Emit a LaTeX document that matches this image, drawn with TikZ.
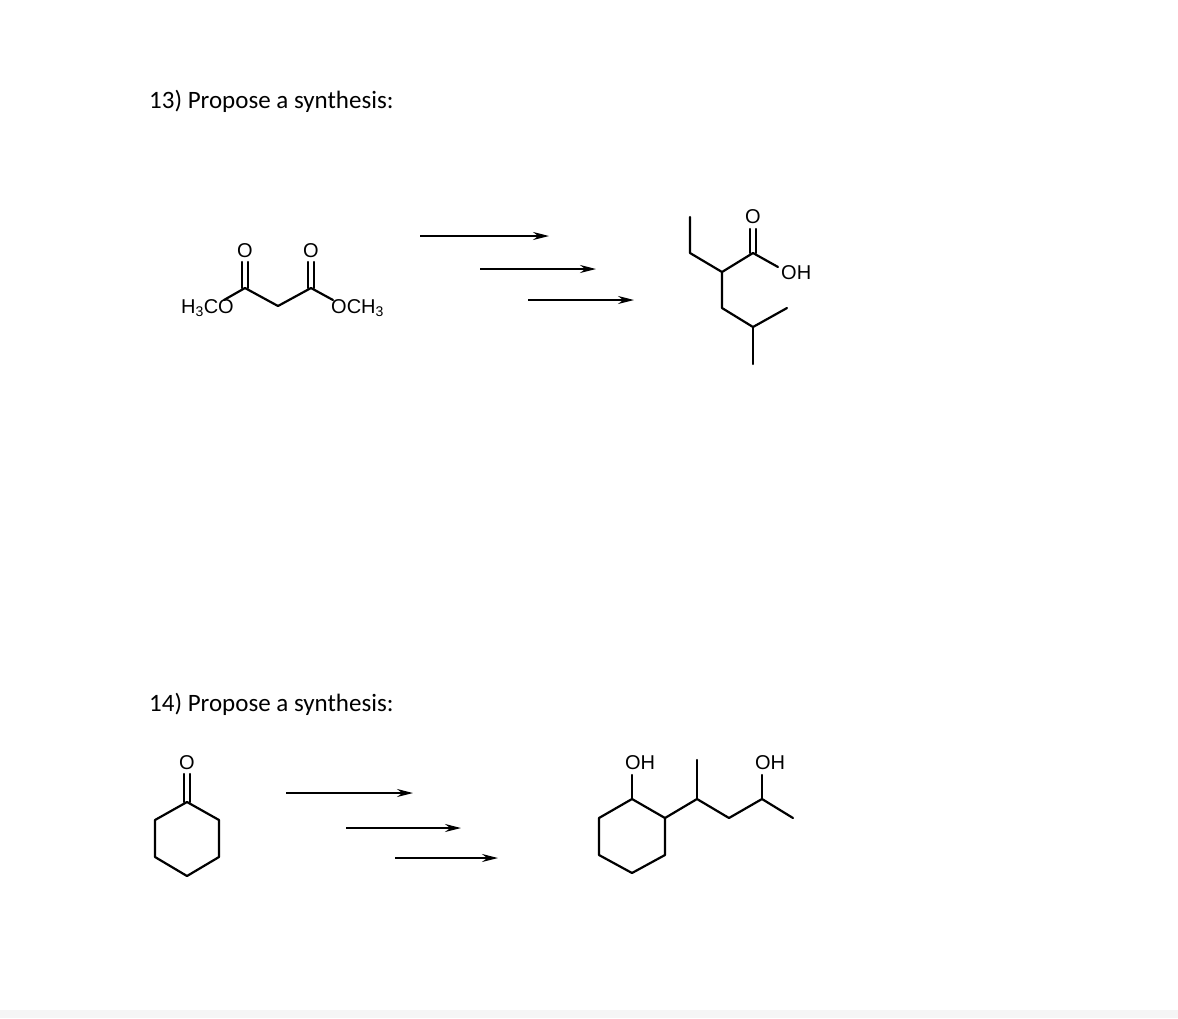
\documentclass[tikz,border=0pt]{standalone}
\usepackage{fontspec}
\setmainfont{Liberation Sans}
\newfontfamily\titlefont{Carlito}
\usetikzlibrary{arrows.meta}
\begin{document}
\begin{tikzpicture}[x=1pt,y=-1pt,
  bond/.style={line width=2.2pt,line cap=round,line join=round},
  rxn/.style={line width=1.4pt,-{Stealth[length=16pt,width=8pt]}},
  atom/.style={font=\fontsize{20}{20}\selectfont,inner sep=0pt},
  ttl/.style={font=\titlefont\fontsize{25}{25}\selectfont,anchor=west,inner sep=0pt}]
\useasboundingbox (0,0) rectangle (1178,1018);
\fill[gray!8] (0,1010) rectangle (1178,1018);
\node[ttl] (t13) at (149,101) {13) Propose a synthesis:};
\node[ttl] (t14) at (149,704) {14) Propose a synthesis:};
% molecule 1
\coordinate (c1) at (245,288); \coordinate (ch2) at (278,306); \coordinate (c2) at (311,288);
\node[atom,anchor=east] (meo) at (234,308) {H\textsubscript{3}CO};
\node[atom,anchor=west] (ome) at (331,308) {OCH\textsubscript{3}};
\node[atom] (o1) at (245,251) {O};
\node[atom] (o2) at (311,251) {O};
\draw[bond] (224,300) -- (c1) -- (ch2) -- (c2) -- (333,300);
\draw[bond] ([xshift=-3pt]c1) -- ([xshift=-3pt]245,262) ([xshift=3pt]c1) -- ([xshift=3pt]245,262);
\draw[bond] ([xshift=-3pt]c2) -- ([xshift=-3pt]311,262) ([xshift=3pt]c2) -- ([xshift=3pt]311,262);
% arrows 1
\coordinate (a1s) at (420,236); \coordinate (a1e) at (549,236);
\coordinate (a2s) at (480,269); \coordinate (a2e) at (596,269);
\coordinate (a3s) at (528,300); \coordinate (a3e) at (634,300);
\draw[rxn] (a1s) -- (a1e); \draw[rxn] (a2s) -- (a2e); \draw[rxn] (a3s) -- (a3e);
% molecule 2
\node[atom] (o3) at (753,217) {O};
\node[atom,anchor=west] (oh1) at (781,273) {OH};
\draw[bond] (690,217) -- (690,253) -- (722,272) -- (753,253) -- (778,267);
\draw[bond] (750,253) -- (750,229) (756,253) -- (756,229);
\draw[bond] (722,272) -- (722,308) -- (753,327) -- (787,308);
\draw[bond] (753,327) -- (753,364);
% molecule 3
\node[atom] (o4) at (187,763) {O};
\draw[bond] (187,802) -- (155,820) -- (155,857) -- (187,876) -- (219,857) -- (219,820) -- cycle;
\draw[bond] (184,802) -- (184,774) (190,802) -- (190,774);
% arrows 2
\coordinate (b1s) at (286,793); \coordinate (b1e) at (413,793);
\coordinate (b2s) at (346,828); \coordinate (b2e) at (461,828);
\coordinate (b3s) at (395,858); \coordinate (b3e) at (498,858);
\draw[rxn] (b1s) -- (b1e); \draw[rxn] (b2s) -- (b2e); \draw[rxn] (b3s) -- (b3e);
% molecule 4
\node[atom] (oh2) at (640,763) {OH};
\node[atom] (oh3) at (770,763) {OH};
\draw[bond] (632,799) -- (665,818) -- (665,855) -- (632,873) -- (599,855) -- (599,818) -- cycle;
\draw[bond] (632,799) -- (632,775);
\draw[bond] (665,818) -- (697,799) -- (729,818) -- (762,799) -- (793,818);
\draw[bond] (697,799) -- (697,760);
\draw[bond] (762,799) -- (762,775);
\end{tikzpicture}
\end{document}
